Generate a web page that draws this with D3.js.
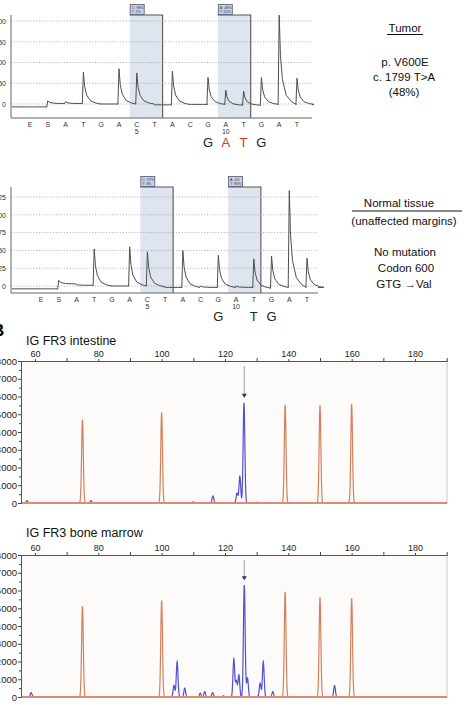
<!DOCTYPE html>
<html>
<head>
<meta charset="utf-8">
<script src="https://cdn.jsdelivr.net/npm/d3@7"></script>
<style>
body { margin: 0; background: #fff; }
svg { display: block; font-family: Arial, "Liberation Sans", sans-serif; }
</style>
</head>
<body>
<svg id="fig" width="474" height="705"></svg>
<script>
'use strict';

// ---- data: pyrosequencing (BRAF codon 600) ----
var dispensations = ['E','S','A','T','G','A','C','T','A','C','G','A','T','G','A','T'];
var dispensationMarks = [[6,'5'],[11,'10']];
var tumorPeaks    = [0, 7, 5, 77, 0, 85, 75, 0, 80, 0, 65, 36, 34, 65, 215, 63];
var tumorBaseline = [-7, 1, 1, 0, 0, 0, 0, -2, -1, -1, -1, -3, -3, -1, -1, -1];
var normalPeaks    = [0, 5, 1, 52, 0, 55, 49, 0, 52, 2, 45, 2, 41, 44, 136, 41];
var normalBaseline = [-4, 3, 1, 0, 0, 0, -1, -2, -2, -2, -2, -2, -3, -2, -2, -2];
var tumorTicks = [0, 50, 100, 150, 200];
var normalTicks = [0, 25, 50, 75, 100, 125];
var variableWindows = [[5.6, 7.45], [10.55, 12.4]];
var tumorWindowLabels = [['C: 98%','T: 2%'], ['A: 48%','T: 52%']];
var normalWindowLabels = [['C: 97%','T: 3%'], ['A: 4%','T: 96%']];
var tumorCodon = [[10,'G',false],[11,'A',true],[12,'T',true],[13,'G',false]];
var normalCodon = [[10,'G',false],[12,'T',false],[13,'G',false]];

// ---- data: IG FR3 clonality (size in bp, height in RFU) ----
var sizeTicks = [60, 80, 100, 120, 140, 160, 180];
var rfuTicks = [0, 1000, 2000, 3000, 4000, 5000, 6000, 7000, 8000];
var ladderSizes = [75, 100, 139, 150, 160];
var intestineLadder = [4700, 5090, 5520, 5500, 5580];
var marrowLadder = [5130, 5430, 5930, 5620, 5560];
var intestineBlueSizes = [57.5, 77.7, 110, 116.2, 123.8, 124.7, 126, 130];
var intestineBlueRfu   = [130, 130, 60, 400, 560, 1500, 5650, 40];
var marrowBlueSizes = [58.8, 103.9, 104.9, 107.3, 112.2, 113.6, 116.1, 119.5, 122.8, 123.6, 124.4, 126.1, 127.1, 131.1, 132.1, 135.1, 154.6];
var marrowBlueRfu   = [250, 650, 1990, 500, 220, 300, 250, 60, 2140, 900, 1240, 6300, 1070, 780, 1990, 300, 640];
var cloneSize = 126.1;

var svg = d3.select('#fig');
svg.append('rect').attr('width', 474).attr('height', 705).attr('fill', '#fff');

function pyrogram(o) {
	var g = svg.append('g').attr('class', 'pyrogram');
	var x = d3.scaleLinear().domain([0, 15]).range(o.xr);
	var y = d3.scaleLinear().domain([0, o.ticks[o.ticks.length-1]]).range(o.yr);

	// variable-position windows
	variableWindows.forEach(function(w, k) {
		g.append('rect')
			.attr('x', x(w[0])).attr('y', o.top)
			.attr('width', x(w[1]) - x(w[0])).attr('height', o.bottom - o.top)
			.attr('fill', '#dfe5ef');
		g.append('path')
			.attr('d', 'M' + x(w[0]) + ',' + o.top + 'H' + x(w[1]) + 'V' + o.bottom)
			.attr('fill', 'none').attr('stroke', '#555').attr('stroke-width', 1.1);
		var lab = g.append('g').attr('transform', 'translate(' + (x(w[0]) + 0.5) + ',' + (o.top - 10.5) + ')');
		lab.append('rect').attr('width', 14).attr('height', 10)
			.attr('fill', '#c9d2e4').attr('stroke', '#4d5670').attr('stroke-width', 0.8);
		o.windowLabels[k].forEach(function(t, j) {
			lab.append('text').attr('x', 1.5).attr('y', 4.3 + j * 4)
				.attr('font-size', 3.6).attr('fill', '#26304a').text(t);
		});
	});

	// grid
	g.selectAll('.grid').data(o.ticks).enter().append('line')
		.attr('x1', o.left).attr('x2', o.right)
		.attr('y1', function(d) { return y(d); }).attr('y2', function(d) { return y(d); })
		.attr('stroke', '#999').attr('stroke-width', 0.8).attr('stroke-dasharray', '1,1.8');

	var ya = d3.axisLeft(y).tickValues(o.ticks).tickSize(0).tickPadding(5);
	g.append('g').attr('transform', 'translate(' + o.left + ',0)').call(ya)
		.call(function(a) {
			a.select('.domain').remove();
			a.selectAll('text').attr('font-size', 7).attr('fill', '#333').attr('font-family', 'Arial, sans-serif');
		});

	// frame
	g.append('path')
		.attr('d', 'M' + o.left + ',' + o.top + 'V' + o.bottom + 'H' + o.right)
		.attr('fill', 'none').attr('stroke', '#666').attr('stroke-width', 1);

	// trace
	var pts = [[x.invert(o.left + 1), o.base[0]]];
	o.peaks.forEach(function(h, i) {
		var prev = i ? o.base[i-1] : o.base[0];
		var b = o.base[i];
		pts.push([i - 0.06, prev], [i, b + h], [i + 0.07, b + h * 0.55], [i + 0.18, b + h * 0.28],
			[i + 0.4, b + h * 0.1], [i + 0.7, b + h * 0.03], [i + 0.96, b]);
	});
	pts.push([x.invert(o.right), o.base[o.base.length-1]]);
	g.append('path')
		.attr('d', d3.line().x(function(p) { return x(p[0]); }).y(function(p) { return y(p[1]); })(pts))
		.attr('fill', 'none').attr('stroke', '#4f4f4f').attr('stroke-width', 1);

	// dispensation letters
	g.selectAll('.disp').data(dispensations).enter().append('text')
		.attr('x', function(d, i) { return x(i); }).attr('y', o.bottom + 9)
		.attr('text-anchor', 'middle').attr('font-size', 7).attr('fill', '#333')
		.text(function(d) { return d; });
	g.selectAll('.num').data(dispensationMarks).enter().append('text')
		.attr('x', function(d) { return x(d[0]); }).attr('y', o.bottom + 16)
		.attr('text-anchor', 'middle').attr('font-size', 7).attr('fill', '#333')
		.text(function(d) { return d[1]; });

	// codon
	g.selectAll('.codon').data(o.codon).enter().append('text')
		.attr('x', function(d) { return x(d[0]); }).attr('y', o.codonY)
		.attr('text-anchor', 'middle').attr('font-size', 13)
		.attr('fill', function(d) { return d[2] ? '#e0302a' : '#222'; })
		.text(function(d) { return d[1]; });
}

pyrogram({ xr: [30, 297], yr: [104, 21], top: 15, bottom: 118, left: 11, right: 312,
	ticks: tumorTicks, peaks: tumorPeaks, base: tumorBaseline,
	windowLabels: tumorWindowLabels, codon: tumorCodon, codonY: 147 });
pyrogram({ xr: [41, 307], yr: [286, 197], top: 187, bottom: 293, left: 11, right: 318,
	ticks: normalTicks, peaks: normalPeaks, base: normalBaseline,
	windowLabels: normalWindowLabels, codon: normalCodon, codonY: 321 });

// right-hand annotations
function note(lines) {
	lines.forEach(function(l) {
		svg.append('text').attr('x', l[0]).attr('y', l[1]).attr('text-anchor', 'middle')
			.attr('font-size', 11.5).attr('fill', '#111').text(l[2]);
	});
}
note([[405, 32, 'Tumor'], [405, 66, 'p. V600E'], [404, 81, 'c. 1799 T>A'], [404, 96, '(48%)'],
	[399, 207, 'Normal tissue'], [404, 225, '(unaffected margins)'],
	[405, 256, 'No mutation'], [406, 272, 'Codon 600'], [404, 288, 'GTG \u2192Val']]);
svg.append('line').attr('x1', 387).attr('x2', 423).attr('y1', 34.5).attr('y2', 34.5).attr('stroke', '#111');
svg.append('line').attr('x1', 352).attr('x2', 462).attr('y1', 211).attr('y2', 211).attr('stroke', '#111');

svg.append('text').attr('x', -8).attr('y', 336).attr('font-size', 17).attr('font-weight', 'bold').text('B');

// electropherograms
function electropherogram(o) {
	var g = svg.append('g').attr('class', 'epg');
	var x = d3.scaleLinear().domain([55.6, 190.1]).range([21, 447]);
	var y = d3.scaleLinear().domain([0, 8000]).range([o.y0, o.y0 - 142]);

	g.append('rect').attr('x', 21).attr('y', y(8000)).attr('width', 426).attr('height', o.y0 - y(8000) + 1)
		.attr('fill', '#fcfbf9');
	g.append('line').attr('x1', 447).attr('x2', 447).attr('y1', y(8000)).attr('y2', o.y0 + 1)
		.attr('stroke', '#c8c8c8');

	function trace(sizes, rfu) {
		var pts = d3.range(55.7, 190, 0.05).map(function(s) {
			var v = 0;
			sizes.forEach(function(p, i) {
				var d = (s - p) / 0.27;
				v += rfu[i] * Math.exp(-d * d / 2);
			});
			return [s, v];
		});
		return d3.line().x(function(p) { return x(p[0]); }).y(function(p) { return y(p[1]); })(pts);
	}
	g.append('path').attr('d', trace(o.blueSizes, o.blueRfu))
		.attr('fill', 'none').attr('stroke', '#5151d2').attr('stroke-width', 1.2);
	g.append('path').attr('d', trace(ladderSizes, o.ladder))
		.attr('fill', 'none').attr('stroke', '#d4805c').attr('stroke-width', 1.2);
	g.append('line').attr('x1', 21).attr('x2', 447).attr('y1', o.y0).attr('y2', o.y0)
		.attr('stroke', '#dc8c70').attr('stroke-width', 2);

	// axes
	var styleAxis = function(a) {
		a.select('.domain').attr('stroke', '#555');
		a.selectAll('.tick line').attr('stroke', '#444');
		a.selectAll('text').attr('fill', '#222').attr('font-family', 'Arial, sans-serif');
	};
	g.append('g').attr('transform', 'translate(21,0)')
		.call(d3.axisLeft(y).tickValues(d3.range(500, 8000, 1000)).tickSize(2).tickFormat('').tickSizeOuter(0))
		.call(styleAxis);
	g.append('g').attr('transform', 'translate(21,0)')
		.call(d3.axisLeft(y).tickValues(rfuTicks).tickSize(3).tickPadding(1).tickSizeOuter(0).tickFormat(d3.format('d')))
		.call(styleAxis).call(function(a) { a.selectAll('text').attr('font-size', 9.5); });
	g.append('g').attr('transform', 'translate(0,' + y(8000) + ')')
		.call(d3.axisTop(x).tickValues(d3.range(70, 191, 20)).tickSize(3).tickFormat('').tickSizeOuter(0))
		.call(styleAxis);
	g.append('g').attr('transform', 'translate(0,' + y(8000) + ')')
		.call(d3.axisTop(x).tickValues(sizeTicks).tickSize(2).tickPadding(2).tickSizeOuter(0))
		.call(styleAxis).call(function(a) { a.selectAll('text').attr('font-size', 9); });

	// clone marker
	var ax = x(cloneSize);
	var tip = y(d3.max(o.blueRfu)) - 5;
	g.append('line').attr('x1', ax).attr('x2', ax).attr('y1', y(8000) + 5).attr('y2', tip - 3)
		.attr('stroke', '#a0a0a8').attr('stroke-width', 1);
	g.append('path').attr('d', 'M' + (ax - 2.5) + ',' + (tip - 4) + 'L' + (ax + 2.5) + ',' + (tip - 4) + 'L' + ax + ',' + tip + 'Z')
		.attr('fill', '#2d2d60');

	g.append('text').attr('x', 26).attr('y', o.titleY).attr('font-size', 12.5).attr('fill', '#111').text(o.title);
}

electropherogram({ y0: 503, title: 'IG FR3 intestine', titleY: 345,
	ladder: intestineLadder, blueSizes: intestineBlueSizes, blueRfu: intestineBlueRfu });
electropherogram({ y0: 697, title: 'IG FR3 bone marrow', titleY: 537,
	ladder: marrowLadder, blueSizes: marrowBlueSizes, blueRfu: marrowBlueRfu });
</script>
</body>
</html>
